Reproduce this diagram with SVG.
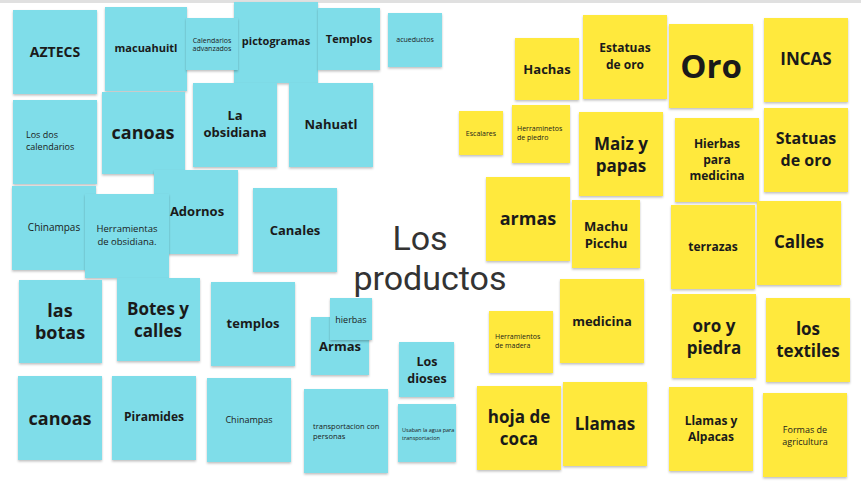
<svg xmlns="http://www.w3.org/2000/svg" width="861" height="487" viewBox="0 0 861 487">
<defs>
<filter id="sh" x="-10%" y="-10%" width="130%" height="130%"><feDropShadow dx="0" dy="1.5" stdDeviation="1.2" flood-color="#000" flood-opacity="0.25"/></filter>
</defs>
<style>
.b{fill:#7fdde9;filter:url(#sh)}
.y{fill:#ffe93e;filter:url(#sh)}
text{font-family:"Open Sans","Liberation Sans",sans-serif;fill:#1a1a1a;text-anchor:middle}
.bd{font-weight:bold}
.l{text-anchor:start}
</style>
<rect x="0" y="0" width="861" height="487" fill="#fff"/>
<rect x="0" y="0" width="861" height="3" fill="#e0e0e0"/>
<text x="420" y="250" font-size="34" style="font-family:Roboto,'Liberation Sans',sans-serif;fill:#333">Los</text>
<text x="430" y="290" font-size="34" style="font-family:Roboto,'Liberation Sans',sans-serif;fill:#333">productos</text>
<g id="n1"><rect class="b" x="13" y="10" width="84" height="84"/><text class="bd" x="55" y="57" font-size="14">AZTECS</text></g>
<g id="n2"><rect class="b" x="105" y="7" width="82" height="84"/><text class="bd" x="146" y="52" font-size="11">macuahuitl</text></g>
<g id="n4"><rect class="b" x="234" y="2" width="84" height="81"/><text class="bd" x="276" y="45" font-size="11">pictogramas</text></g>
<g id="n3"><rect class="b" x="186" y="18" width="52" height="52"/><text x="212" y="43" font-size="7">Calendarios</text><text x="212" y="51" font-size="7">advanzados</text></g>
<g id="n5"><rect class="b" x="318" y="8" width="62" height="62"/><text class="bd" x="349" y="43" font-size="11">Templos</text></g>
<g id="n6"><rect class="b" x="388" y="13" width="54" height="54"/><text x="415" y="42" font-size="7">acueductos</text></g>
<g id="n7"><rect class="b" x="13" y="100" width="84" height="84"/><text class="l" x="26" y="138" font-size="9">Los dos</text><text class="l" x="26" y="150" font-size="9">calendarios</text></g>
<g id="n8"><rect class="b" x="102" y="92" width="83" height="82"/><text class="bd" x="143" y="139" font-size="18">canoas</text></g>
<g id="n9"><rect class="b" x="193" y="83" width="84" height="84"/><text class="bd" x="235" y="120" font-size="13">La</text><text class="bd" x="235" y="137" font-size="13">obsidiana</text></g>
<g id="n10"><rect class="b" x="289" y="83" width="84" height="84"/><text class="bd" x="331" y="129" font-size="13">Nahuatl</text></g>
<g id="n12"><rect class="b" x="154" y="170" width="84" height="84"/><text class="bd" x="197" y="216" font-size="13">Adornos</text></g>
<g id="n11"><rect class="b" x="12" y="186" width="84" height="84"/><text x="54" y="231" font-size="10">Chinampas</text></g>
<g id="n13"><rect class="b" x="85" y="194" width="84" height="84"/><text x="127" y="232" font-size="9.5">Herramientas</text><text x="127" y="245" font-size="9.5">de obsidiana.</text></g>
<g id="n14"><rect class="b" x="253" y="188" width="84" height="84"/><text class="bd" x="295" y="235" font-size="13">Canales</text></g>
<g id="n15"><rect class="b" x="19" y="280" width="83" height="83"/><text class="bd" x="60" y="317" font-size="18">las</text><text class="bd" x="60" y="339" font-size="18">botas</text></g>
<g id="n16"><rect class="b" x="117" y="278" width="83" height="83"/><text class="bd" x="158" y="315" font-size="17">Botes y</text><text class="bd" x="158" y="337" font-size="17">calles</text></g>
<g id="n17"><rect class="b" x="211" y="282" width="84" height="84"/><text class="bd" x="253" y="328" font-size="13">templos</text></g>
<g id="n18"><rect class="b" x="311" y="317" width="58" height="58"/><text class="bd" x="340" y="351" font-size="13">Armas</text></g>
<g id="n19"><rect class="b" x="330" y="298" width="42" height="42"/><text x="351" y="323" font-size="9">hierbas</text></g>
<g id="n20"><rect class="b" x="399" y="342" width="55" height="55"/><text class="bd" x="427" y="366" font-size="12.5">Los</text><text class="bd" x="427" y="383" font-size="12.5">dioses</text></g>
<g id="n21"><rect class="b" x="18" y="376" width="84" height="84"/><text class="bd" x="60" y="425" font-size="18">canoas</text></g>
<g id="n22"><rect class="b" x="112" y="376" width="84" height="84"/><text class="bd" x="154" y="421" font-size="12">Piramides</text></g>
<g id="n23"><rect class="b" x="207" y="378" width="84" height="84"/><text x="249" y="423" font-size="9">Chinampas</text></g>
<g id="n24"><rect class="b" x="304" y="389" width="84" height="84"/><text class="l" x="313" y="429" font-size="7.5">transportacion con</text><text class="l" x="313" y="439" font-size="7.5">personas</text></g>
<g id="n25"><rect class="b" x="398" y="404" width="58" height="58"/><text class="l" x="402" y="432" font-size="5.5">Usaban la agua para</text><text class="l" x="402" y="440" font-size="5.5">transportacion</text></g>

<g id="y1"><rect class="y" x="515" y="38" width="64" height="62"/><text class="bd" x="547" y="74" font-size="13">Hachas</text></g>
<g id="y2"><rect class="y" x="583" y="15" width="84" height="84"/><text class="bd" x="625" y="52" font-size="12">Estatuas</text><text class="bd" x="625" y="69" font-size="12">de oro</text></g>
<g id="y3"><rect class="y" x="669" y="24" width="84" height="84"/><text class="bd" x="711" y="78" font-size="33">Oro</text></g>
<g id="y4"><rect class="y" x="764" y="18" width="84" height="84"/><text class="bd" x="806" y="65" font-size="17">INCAS</text></g>
<g id="y5"><rect class="y" x="459" y="111" width="44" height="44"/><text x="481" y="136" font-size="7">Escalares</text></g>
<g id="y6"><rect class="y" x="512" y="105" width="58" height="58"/><text class="l" x="517" y="131" font-size="7">Herraminetos</text><text class="l" x="517" y="140" font-size="7">de piedro</text></g>
<g id="y7"><rect class="y" x="579" y="112" width="84" height="84"/><text class="bd" x="621" y="150" font-size="17">Maiz y</text><text class="bd" x="621" y="172" font-size="17">papas</text></g>
<g id="y8"><rect class="y" x="675" y="118" width="84" height="84"/><text class="bd" x="717" y="148" font-size="12">Hierbas</text><text class="bd" x="717" y="164" font-size="12">para</text><text class="bd" x="717" y="180" font-size="12">medicina</text></g>
<g id="y9"><rect class="y" x="764" y="108" width="84" height="84"/><text class="bd" x="806" y="144" font-size="16">Statuas</text><text class="bd" x="806" y="166" font-size="16">de oro</text></g>
<g id="y10"><rect class="y" x="486" y="177" width="84" height="84"/><text class="bd" x="528" y="225" font-size="18">armas</text></g>
<g id="y11"><rect class="y" x="572" y="200" width="68" height="68"/><text class="bd" x="606" y="231" font-size="13">Machu</text><text class="bd" x="606" y="248" font-size="13">Picchu</text></g>
<g id="y12"><rect class="y" x="671" y="205" width="84" height="84"/><text class="bd" x="713" y="251" font-size="12">terrazas</text></g>
<g id="y13"><rect class="y" x="757" y="201" width="84" height="84"/><text class="bd" x="799" y="248" font-size="17">Calles</text></g>
<g id="y15"><rect class="y" x="560" y="279" width="84" height="84"/><text class="bd" x="602" y="326" font-size="13">medicina</text></g>
<g id="y14"><rect class="y" x="489" y="311" width="64" height="62"/><text class="l" x="495" y="339" font-size="7">Herramientos</text><text class="l" x="495" y="348" font-size="7">de madera</text></g>
<g id="y16"><rect class="y" x="672" y="294" width="84" height="84"/><text class="bd" x="714" y="332" font-size="17">oro y</text><text class="bd" x="714" y="354" font-size="17">piedra</text></g>
<g id="y17"><rect class="y" x="766" y="298" width="84" height="84"/><text class="bd" x="808" y="335" font-size="17">los</text><text class="bd" x="808" y="357" font-size="17">textiles</text></g>
<g id="y18"><rect class="y" x="477" y="386" width="84" height="84"/><text class="bd" x="519" y="423" font-size="17">hoja de</text><text class="bd" x="519" y="445" font-size="17">coca</text></g>
<g id="y19"><rect class="y" x="563" y="382" width="84" height="84"/><text class="bd" x="605" y="430" font-size="17">Llamas</text></g>
<g id="y20"><rect class="y" x="669" y="387" width="84" height="84"/><text class="bd" x="711" y="425" font-size="12">Llamas y</text><text class="bd" x="711" y="441" font-size="12">Alpacas</text></g>
<g id="y21"><rect class="y" x="763" y="393" width="84" height="84"/><text x="805" y="433" font-size="9">Formas de</text><text x="805" y="445" font-size="9">agricultura</text></g>
<g id="connectors"/>
</svg>
